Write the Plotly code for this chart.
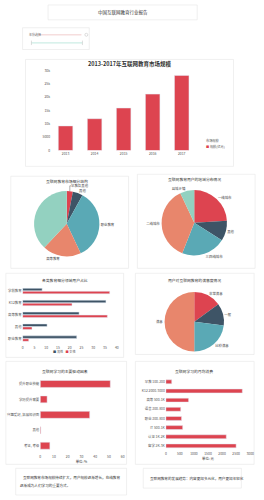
import plotly.graph_objects as go

W, H = 264, 500
FONT = "Noto Sans CJK SC"
RED = "#dd4450"
DARK = "#3e5466"
TEAL = "#5aa9b5"
SALMON = "#e8866c"
MINT = "#93d1c0"


def px(x):
    return x / W


def py(y):
    return 1 - y / H


# ---------------- data ----------------
report_title = "中国互联网教育行业报告"

bar_title = "2013-2017年互联网教育市场规模"
years = ["2013", "2014", "2015", "2016", "2017"]
market_size = [9200, 11900, 15900, 21100, 28100]
bar_ticks = [0, 5000, 10000, 15000, 20000, 25000, 30000]
bar_legend_title = "市场规模"
bar_series = "规模(亿元)"

pie1_title = "互联网教育市场细分结构"
pie1_labels = ["早教及其他", "其他", "职业教育", "高等教育", "K12教育"]
pie1_text = ["早教及其他", "其他", "职业教育", "高等教育", ""]
pie1_values = [3, 5, 35, 19, 38]

pie2_title = "互联网教育用户的地域分布情况"
pie2_labels = ["一线城市", "其他", "三四线城市", "二线城市", "县城乡镇"]
pie2_values = [24, 10, 22, 37, 7]

grp_title = "各类教育细分领域用户占比"
grp_cats = ["学前教育", "K12教育", "高等教育", "其他", "职业教育"]
grp_series = ["男性", "女性"]
grp_male = [8.3, 35.4, 24.0, 10.4, 23.0]
grp_female = [37.0, 21.0, 36.0, 4.0, 2.6]
grp_ticks = [0, 5, 10, 15, 20, 25, 30, 35, 40]

pie3_title = "用户对互联网教育的满意度情况"
pie3_labels = ["非常满意", "一般", "比较满意", "满意"]
pie3_values = [15, 12, 23, 50]

why_title = "互联网学习的主要驱动因素"
why_cats = ["提升职业技能", "学历提升需要", "兴趣爱好, 拓展知识面", "其他", "考证, 考级"]
why_values = [51, 5, 36, 0.5, 7]
why_ticks = [0, 10, 20, 30, 40, 50, 60]
why_axis = "单位: %"

spend_title = "互联网学习的月均消费"
spend_cats = ["早教 100-200", "K12 2000-3000", "高等 500-1K", "语言 300-800",
              "职业 300-800", "IT 500-1K", "认证 1K-2K", "留学 2K-3K"]
spend_values = [210, 2720, 810, 530, 560, 600, 2150, 2500]
spend_ticks = [0, 500, 1000, 1500, 2000, 2500, 3000]
spend_axis = "单位: 元"

note_left = "互联网教育市场规模持续扩大，用户规模逐渐增长，在线教育逐渐成为人们学习的重要方式。"
note_right = "互联网教育的发展趋势：内容更加多元化，用户更加年轻化"

# ---------------- figure ----------------
fig = go.Figure()

fig.add_trace(go.Bar(
    x=years, y=market_size, name=bar_series, marker_color=RED,
    width=0.5, xaxis="x", yaxis="y", showlegend=False,
))

pie_common = dict(sort=False, direction="clockwise", rotation=0,
                  textposition="outside", textinfo="text",
                  textfont=dict(size=3.4, color="#444"),
                  showlegend=False, hoverinfo="label+percent")
fig.add_trace(go.Pie(labels=pie1_labels, values=pie1_values, text=pie1_text,
                     marker_colors=[RED, DARK, TEAL, SALMON, MINT],
                     domain=dict(x=[px(30), px(104)], y=[py(256), py(190)]),
                     **pie_common))
fig.add_trace(go.Pie(labels=pie2_labels, values=pie2_values, text=pie2_labels,
                     marker_colors=[RED, DARK, TEAL, SALMON, MINT],
                     domain=dict(x=[px(155), px(239)], y=[py(255), py(189)]),
                     **pie_common))
fig.add_trace(go.Pie(labels=pie3_labels, values=pie3_values, text=pie3_labels,
                     marker_colors=[RED, DARK, TEAL, SALMON],
                     domain=dict(x=[px(157), px(237)], y=[py(352), py(292)]),
                     **pie_common))

fig.add_trace(go.Bar(y=grp_cats, x=grp_male, name=grp_series[0], orientation="h",
                     marker_color=DARK, xaxis="x2", yaxis="y2", showlegend=False))
fig.add_trace(go.Bar(y=grp_cats, x=grp_female, name=grp_series[1], orientation="h",
                     marker_color=RED, xaxis="x2", yaxis="y2", showlegend=False))

fig.add_trace(go.Bar(y=why_cats, x=why_values, orientation="h", marker_color=RED,
                     width=0.45, xaxis="x3", yaxis="y3", showlegend=False))
fig.add_trace(go.Bar(y=spend_cats, x=spend_values, orientation="h", marker_color=RED,
                     width=0.43, xaxis="x4", yaxis="y4", showlegend=False))

tick_font = dict(size=3.4, color="#555", family=FONT)
axis_common = dict(showgrid=False, zeroline=False, tickfont=tick_font, ticks="",
                   showline=False, fixedrange=True)

fig.update_layout(
    width=W, height=H,
    margin=dict(l=0, r=0, t=0, b=0),
    paper_bgcolor="white", plot_bgcolor="white",
    font=dict(family=FONT, size=4, color="#333"),
    barmode="group", bargap=0.5, bargroupgap=0.15,
    showlegend=False,
    xaxis=dict(domain=[px(51), px(199)], anchor="y", **axis_common),
    yaxis=dict(domain=[py(149), py(68)], anchor="x", range=[0, 30000],
               tickvals=bar_ticks, **axis_common),
    xaxis2=dict(domain=[px(22), px(118)], anchor="y2", range=[0, 40],
                tickvals=grp_ticks, **axis_common),
    yaxis2=dict(domain=[py(345), py(285)], anchor="x2", autorange="reversed",
                **axis_common),
    xaxis3=dict(domain=[px(40), px(124)], anchor="y3", range=[0, 60],
                tickvals=why_ticks,
                title=dict(text=why_axis, font=dict(size=3.4), standoff=1),
                **axis_common),
    yaxis3=dict(domain=[py(455), py(377)], anchor="x3", autorange="reversed",
                **axis_common),
    xaxis4=dict(domain=[px(168), px(254)], anchor="y4", range=[0, 3000],
                tickvals=spend_ticks,
                title=dict(text=spend_axis, font=dict(size=3.4), standoff=1),
                **axis_common),
    yaxis4=dict(domain=[py(452), py(378)], anchor="x4", autorange="reversed",
                **axis_common),
)

# ---------------- panels ----------------
panel_line = "#e6e6e6"
panels = [
    (48, 2, 200, 17),
    (22, 25, 90, 47),
    (25, 57, 237, 165),
    (10, 175, 130, 268),
    (139, 173, 259, 268),
    (5, 273, 125, 358),
    (137, 273, 258, 355),
    (5, 362, 128, 466),
    (137, 362, 258, 466),
    (15, 470, 128, 497),
    (145, 470, 245, 490),
]
shapes = []
for x0, y0, x1, y1 in panels:
    shapes.append(dict(type="rect", xref="paper", yref="paper",
                       x0=px(x0), x1=px(x1), y0=py(y1), y1=py(y0),
                       line=dict(color=panel_line, width=0.6),
                       fillcolor="white", layer="below"))
shapes += [
    dict(type="rect", xref="paper", yref="paper", x0=px(38), x1=px(82),
         y0=py(32.8), y1=py(31.4), line=dict(width=0), fillcolor="#f6dede"),
    dict(type="circle", xref="paper", yref="paper", x0=px(85.5), x1=px(88.5),
         y0=py(33.6), y1=py(30.6), line=dict(color="#bbbbbb", width=0.5),
         fillcolor="white"),
    dict(type="rect", xref="paper", yref="paper", x0=px(31), x1=px(83),
         y0=py(40.8), y1=py(39.6), line=dict(width=0), fillcolor="#cdeee6"),
    dict(type="line", xref="paper", yref="paper", x0=px(31), x1=px(31),
         y0=py(42.5), y1=py(38), line=dict(color="#bbbbbb", width=0.5)),
    dict(type="line", xref="paper", yref="paper", x0=px(83), x1=px(83),
         y0=py(42.5), y1=py(38), line=dict(color="#bbbbbb", width=0.5)),
]
fig.update_layout(shapes=shapes)

ann = []


def add_text(x, y, text, size=4, xanchor="center", color="#333"):
    ann.append(dict(x=px(x), y=py(y), xref="paper", yref="paper", text=text,
                    showarrow=False, xanchor=xanchor, yanchor="middle",
                    font=dict(size=size, color=color, family=FONT)))


def swatch(color):
    return '<span style="color:%s">■</span>' % color


add_text(124, 10, report_title, size=4.5)
add_text(26, 31.5, "年份选择", size=3, xanchor="left", color="#666")
add_text(131, 62, "<b>" + bar_title + "</b>", size=5.5)
add_text(207, 139, bar_legend_title, size=3.2, xanchor="left", color="#555")
add_text(207, 145, swatch(RED) + " " + bar_series, size=3.2, xanchor="left", color="#555")
add_text(67, 180, pie1_title, size=3.8)
add_text(197, 178, pie2_title, size=3.8)
add_text(65, 280, grp_title, size=3.8)
add_text(65, 352, swatch(DARK) + " " + grp_series[0] + "   " + swatch(RED) + " " + grp_series[1],
         size=3.2, color="#555")
add_text(197, 280, pie3_title, size=3.8)
add_text(65, 372, why_title, size=3.8)
add_text(197, 372, spend_title, size=3.8)
add_text(20, 479, note_left[:27], size=3.6, xanchor="left")
add_text(17, 487, note_left[27:], size=3.6, xanchor="left")
add_text(150, 480, note_right, size=3.6, xanchor="left")
fig.update_layout(annotations=ann)

fig.write_html("out.html")
